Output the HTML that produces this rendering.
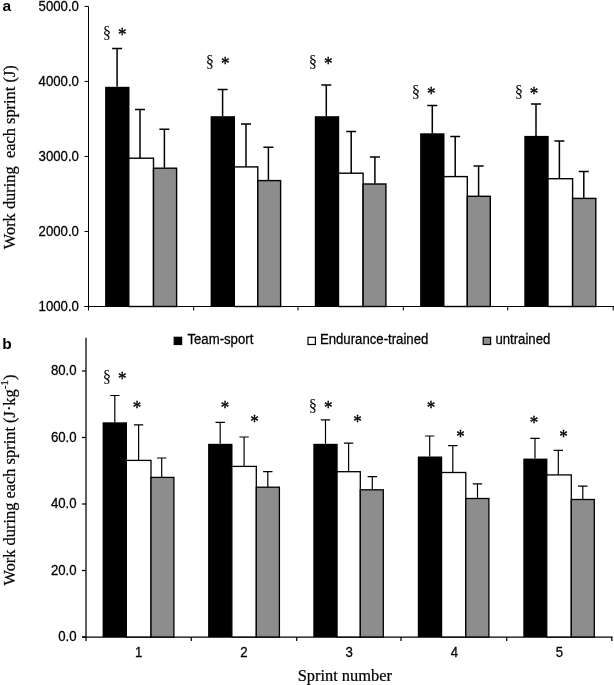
<!DOCTYPE html>
<html lang="en"><head><meta charset="utf-8"><title>Work during each sprint</title>
<style>
html,body{margin:0;padding:0;background:#fff}
body{width:614px;height:685px;overflow:hidden}
svg{display:block}
.s{font-family:"Liberation Sans",Arial,sans-serif;font-size:13.2px;fill:#000;stroke:#000;stroke-width:.25px}
.b{font-family:"Liberation Sans",Arial,sans-serif;font-size:15.5px;font-weight:bold;fill:#000}
.t{font-family:"Liberation Serif","Times New Roman",serif;fill:#000}
.ti{font-size:16.4px;stroke:#000;stroke-width:.22px}
.sy{font-size:16.5px}
.as{font-size:17px;stroke:#000;stroke-width:.35px}
</style></head><body>
<svg width="614" height="685" viewBox="0 0 614 685">
<rect width="614" height="685" fill="#fff"/>
<path d="M88.5 6.4V310.5M84.5 306.5H614" stroke="#000" stroke-width="1" fill="none"/>
<path d="M84.5 6.40H88.5" stroke="#000" stroke-width="1"/>
<text transform="translate(78.90 10.60) scale(1 1.08)" text-anchor="end" class="s">5000.0</text>
<path d="M84.5 81.43H88.5" stroke="#000" stroke-width="1"/>
<text transform="translate(78.90 85.63) scale(1 1.08)" text-anchor="end" class="s">4000.0</text>
<path d="M84.5 156.45H88.5" stroke="#000" stroke-width="1"/>
<text transform="translate(78.90 160.65) scale(1 1.08)" text-anchor="end" class="s">3000.0</text>
<path d="M84.5 231.48H88.5" stroke="#000" stroke-width="1"/>
<text transform="translate(78.90 235.68) scale(1 1.08)" text-anchor="end" class="s">2000.0</text>
<path d="M84.5 306.50H88.5" stroke="#000" stroke-width="1"/>
<text transform="translate(78.90 310.70) scale(1 1.08)" text-anchor="end" class="s">1000.0</text>
<path d="M193.65 306.5V310.5" stroke="#000" stroke-width="1"/>
<path d="M298.00 306.5V310.5" stroke="#000" stroke-width="1"/>
<path d="M403.30 306.5V310.5" stroke="#000" stroke-width="1"/>
<path d="M507.70 306.5V310.5" stroke="#000" stroke-width="1"/>
<path d="M613.20 306.5V310.5" stroke="#000" stroke-width="1"/>
<rect x="105.10" y="86.80" width="24.40" height="219.70" fill="#000"/>
<rect x="128.80" y="158.20" width="24.70" height="148.30" fill="#fff" stroke="#000" stroke-width="1.4"/>
<rect x="153.50" y="168.20" width="23.10" height="138.30" fill="#8d8d8d" stroke="#000" stroke-width="1.4"/>
<path d="M117.10 86.80V48.40M112.10 48.40H122.10" stroke="#000" stroke-width="1.5" fill="none"/>
<path d="M140.00 158.20V109.40M135.00 109.40H145.00" stroke="#000" stroke-width="1.5" fill="none"/>
<path d="M164.40 168.20V129.30M159.40 129.30H169.40" stroke="#000" stroke-width="1.5" fill="none"/>
<rect x="210.60" y="116.20" width="24.40" height="190.30" fill="#000"/>
<rect x="234.30" y="166.90" width="23.50" height="139.60" fill="#fff" stroke="#000" stroke-width="1.4"/>
<rect x="257.80" y="180.60" width="22.80" height="125.90" fill="#8d8d8d" stroke="#000" stroke-width="1.4"/>
<path d="M222.60 116.20V89.40M217.60 89.40H227.60" stroke="#000" stroke-width="1.5" fill="none"/>
<path d="M246.00 166.90V124.10M241.00 124.10H251.00" stroke="#000" stroke-width="1.5" fill="none"/>
<path d="M268.40 180.60V147.20M263.40 147.20H273.40" stroke="#000" stroke-width="1.5" fill="none"/>
<rect x="314.80" y="116.20" width="24.40" height="190.30" fill="#000"/>
<rect x="338.50" y="173.20" width="24.60" height="133.30" fill="#fff" stroke="#000" stroke-width="1.4"/>
<rect x="363.10" y="184.00" width="22.80" height="122.50" fill="#8d8d8d" stroke="#000" stroke-width="1.4"/>
<path d="M326.30 116.20V84.90M321.30 84.90H331.30" stroke="#000" stroke-width="1.5" fill="none"/>
<path d="M351.20 173.20V131.40M346.20 131.40H356.20" stroke="#000" stroke-width="1.5" fill="none"/>
<path d="M374.90 184.00V156.90M369.90 156.90H379.90" stroke="#000" stroke-width="1.5" fill="none"/>
<rect x="420.10" y="133.30" width="24.40" height="173.20" fill="#000"/>
<rect x="443.80" y="176.60" width="23.50" height="129.90" fill="#fff" stroke="#000" stroke-width="1.4"/>
<rect x="467.30" y="196.30" width="23.00" height="110.20" fill="#8d8d8d" stroke="#000" stroke-width="1.4"/>
<path d="M432.30 133.30V105.40M427.30 105.40H437.30" stroke="#000" stroke-width="1.5" fill="none"/>
<path d="M455.20 176.60V136.40M450.20 136.40H460.20" stroke="#000" stroke-width="1.5" fill="none"/>
<path d="M478.60 196.30V165.90M473.60 165.90H483.60" stroke="#000" stroke-width="1.5" fill="none"/>
<rect x="524.30" y="135.90" width="24.40" height="170.60" fill="#000"/>
<rect x="548.00" y="178.70" width="24.60" height="127.80" fill="#fff" stroke="#000" stroke-width="1.4"/>
<rect x="572.60" y="198.40" width="23.20" height="108.10" fill="#8d8d8d" stroke="#000" stroke-width="1.4"/>
<path d="M536.00 135.90V104.10M531.00 104.10H541.00" stroke="#000" stroke-width="1.5" fill="none"/>
<path d="M559.40 178.70V140.90M554.40 140.90H564.40" stroke="#000" stroke-width="1.5" fill="none"/>
<path d="M583.80 198.40V171.40M578.80 171.40H588.80" stroke="#000" stroke-width="1.5" fill="none"/>
<path d="M86.0 337.8V641.0M82.0 637.0H612.5" stroke="#000" stroke-width="1.25" fill="none"/>
<path d="M82.0 371.00H86.0" stroke="#000" stroke-width="1.25"/>
<text transform="translate(76.60 375.20) scale(1 1.08)" text-anchor="end" class="s">80.0</text>
<path d="M82.0 437.50H86.0" stroke="#000" stroke-width="1.25"/>
<text transform="translate(76.60 441.70) scale(1 1.08)" text-anchor="end" class="s">60.0</text>
<path d="M82.0 504.00H86.0" stroke="#000" stroke-width="1.25"/>
<text transform="translate(76.60 508.20) scale(1 1.08)" text-anchor="end" class="s">40.0</text>
<path d="M82.0 570.50H86.0" stroke="#000" stroke-width="1.25"/>
<text transform="translate(76.60 574.70) scale(1 1.08)" text-anchor="end" class="s">20.0</text>
<path d="M82.0 637.00H86.0" stroke="#000" stroke-width="1.25"/>
<text transform="translate(76.60 641.20) scale(1 1.08)" text-anchor="end" class="s">0.0</text>
<path d="M191.30 637.0V641.0" stroke="#000" stroke-width="1.25"/>
<text transform="translate(138.78 656.50) scale(1 1.08)" text-anchor="middle" class="s">1</text>
<path d="M296.70 637.0V641.0" stroke="#000" stroke-width="1.25"/>
<text transform="translate(243.95 656.50) scale(1 1.08)" text-anchor="middle" class="s">2</text>
<path d="M401.00 637.0V641.0" stroke="#000" stroke-width="1.25"/>
<text transform="translate(349.12 656.50) scale(1 1.08)" text-anchor="middle" class="s">3</text>
<path d="M506.70 637.0V641.0" stroke="#000" stroke-width="1.25"/>
<text transform="translate(454.30 656.50) scale(1 1.08)" text-anchor="middle" class="s">4</text>
<path d="M611.80 637.0V641.0" stroke="#000" stroke-width="1.25"/>
<text transform="translate(559.47 656.50) scale(1 1.08)" text-anchor="middle" class="s">5</text>
<rect x="102.60" y="422.30" width="24.40" height="214.70" fill="#000"/>
<rect x="126.35" y="460.40" width="24.65" height="176.60" fill="#fff" stroke="#000" stroke-width="1.3"/>
<rect x="151.00" y="477.40" width="22.90" height="159.60" fill="#8d8d8d" stroke="#000" stroke-width="1.3"/>
<path d="M114.80 422.30V395.50M110.10 395.50H119.50" stroke="#000" stroke-width="1.2" fill="none"/>
<path d="M138.60 460.40V424.90M133.90 424.90H143.30" stroke="#000" stroke-width="1.2" fill="none"/>
<path d="M161.70 477.40V458.00M157.00 458.00H166.40" stroke="#000" stroke-width="1.2" fill="none"/>
<rect x="208.10" y="443.80" width="24.40" height="193.20" fill="#000"/>
<rect x="231.85" y="466.40" width="24.45" height="170.60" fill="#fff" stroke="#000" stroke-width="1.3"/>
<rect x="256.30" y="487.20" width="23.10" height="149.80" fill="#8d8d8d" stroke="#000" stroke-width="1.3"/>
<path d="M220.20 443.80V422.30M215.50 422.30H224.90" stroke="#000" stroke-width="1.2" fill="none"/>
<path d="M244.10 466.40V437.00M239.40 437.00H248.80" stroke="#000" stroke-width="1.2" fill="none"/>
<path d="M267.80 487.20V471.70M263.10 471.70H272.50" stroke="#000" stroke-width="1.2" fill="none"/>
<rect x="313.30" y="443.80" width="24.40" height="193.20" fill="#000"/>
<rect x="337.05" y="471.70" width="23.25" height="165.30" fill="#fff" stroke="#000" stroke-width="1.3"/>
<rect x="360.30" y="489.80" width="23.00" height="147.20" fill="#8d8d8d" stroke="#000" stroke-width="1.3"/>
<path d="M325.50 443.80V419.90M320.80 419.90H330.20" stroke="#000" stroke-width="1.2" fill="none"/>
<path d="M348.60 471.70V443.10M343.90 443.10H353.30" stroke="#000" stroke-width="1.2" fill="none"/>
<path d="M372.30 489.80V476.70M367.60 476.70H377.00" stroke="#000" stroke-width="1.2" fill="none"/>
<rect x="417.80" y="456.50" width="24.40" height="180.50" fill="#000"/>
<rect x="441.55" y="472.50" width="24.25" height="164.50" fill="#fff" stroke="#000" stroke-width="1.3"/>
<rect x="465.80" y="498.50" width="23.10" height="138.50" fill="#8d8d8d" stroke="#000" stroke-width="1.3"/>
<path d="M429.70 456.50V436.00M425.00 436.00H434.40" stroke="#000" stroke-width="1.2" fill="none"/>
<path d="M452.80 472.50V445.70M448.10 445.70H457.50" stroke="#000" stroke-width="1.2" fill="none"/>
<path d="M477.50 498.50V483.80M472.80 483.80H482.20" stroke="#000" stroke-width="1.2" fill="none"/>
<rect x="523.30" y="458.60" width="24.10" height="178.40" fill="#000"/>
<rect x="546.75" y="474.90" width="24.55" height="162.10" fill="#fff" stroke="#000" stroke-width="1.3"/>
<rect x="571.30" y="499.50" width="23.00" height="137.50" fill="#8d8d8d" stroke="#000" stroke-width="1.3"/>
<path d="M535.00 458.60V438.30M530.30 438.30H539.70" stroke="#000" stroke-width="1.2" fill="none"/>
<path d="M558.30 474.90V450.40M553.60 450.40H563.00" stroke="#000" stroke-width="1.2" fill="none"/>
<path d="M582.80 499.50V486.10M578.10 486.10H587.50" stroke="#000" stroke-width="1.2" fill="none"/>
<text x="102.87" y="38.15" class="t sy">§</text>
<text x="205.67" y="67.35" class="t sy">§</text>
<text x="308.67" y="67.35" class="t sy">§</text>
<text x="411.67" y="96.90" class="t sy">§</text>
<text x="514.67" y="96.90" class="t sy">§</text>
<text x="102.77" y="382.35" class="t sy">§</text>
<text x="308.72" y="411.40" class="t sy">§</text>
<text transform="translate(118.10 41.00) scale(1 1.13)" class="t as">*</text>
<text transform="translate(221.05 69.75) scale(1 1.13)" class="t as">*</text>
<text transform="translate(324.05 69.75) scale(1 1.13)" class="t as">*</text>
<text transform="translate(427.05 99.55) scale(1 1.13)" class="t as">*</text>
<text transform="translate(529.85 99.55) scale(1 1.13)" class="t as">*</text>
<text transform="translate(118.00 384.65) scale(1 1.13)" class="t as">*</text>
<text transform="translate(132.65 413.80) scale(1 1.13)" class="t as">*</text>
<text transform="translate(220.85 413.80) scale(1 1.13)" class="t as">*</text>
<text transform="translate(250.30 428.45) scale(1 1.13)" class="t as">*</text>
<text transform="translate(323.90 413.80) scale(1 1.13)" class="t as">*</text>
<text transform="translate(353.35 428.45) scale(1 1.13)" class="t as">*</text>
<text transform="translate(426.80 413.85) scale(1 1.13)" class="t as">*</text>
<text transform="translate(456.15 443.15) scale(1 1.13)" class="t as">*</text>
<text transform="translate(529.70 428.55) scale(1 1.13)" class="t as">*</text>
<text transform="translate(559.20 443.20) scale(1 1.13)" class="t as">*</text>
<rect x="174.20" y="337.3" width="7.4" height="7.2" fill="#000" stroke="#000" stroke-width="1.2"/>
<rect x="308.00" y="337.3" width="7.4" height="7.2" fill="#fff" stroke="#000" stroke-width="1.2"/>
<rect x="483.20" y="337.3" width="7.4" height="7.2" fill="#8d8d8d" stroke="#000" stroke-width="1.2"/>
<text transform="translate(187.40 344.30) scale(1 1.08)" class="s">Team-sport</text>
<text transform="translate(319.90 344.30) scale(1 1.08)" class="s">Endurance-trained</text>
<text transform="translate(495.40 344.30) scale(1 1.08)" class="s">untrained</text>
<text x="2.5" y="11.2" class="b">a</text>
<text x="2.2" y="349.3" class="b">b</text>
<text transform="translate(15.1 249.2) rotate(-90)" class="t ti" style="white-space:pre">Work during  each sprint (J)</text>
<text transform="translate(15.2 585.5) rotate(-90)" class="t ti">Work during each sprint (J·kg<tspan dy="-7" font-size="11">-1</tspan><tspan dy="7">)</tspan></text>
<text x="297.7" y="681" class="t ti">Sprint number</text>
</svg>
</body></html>
